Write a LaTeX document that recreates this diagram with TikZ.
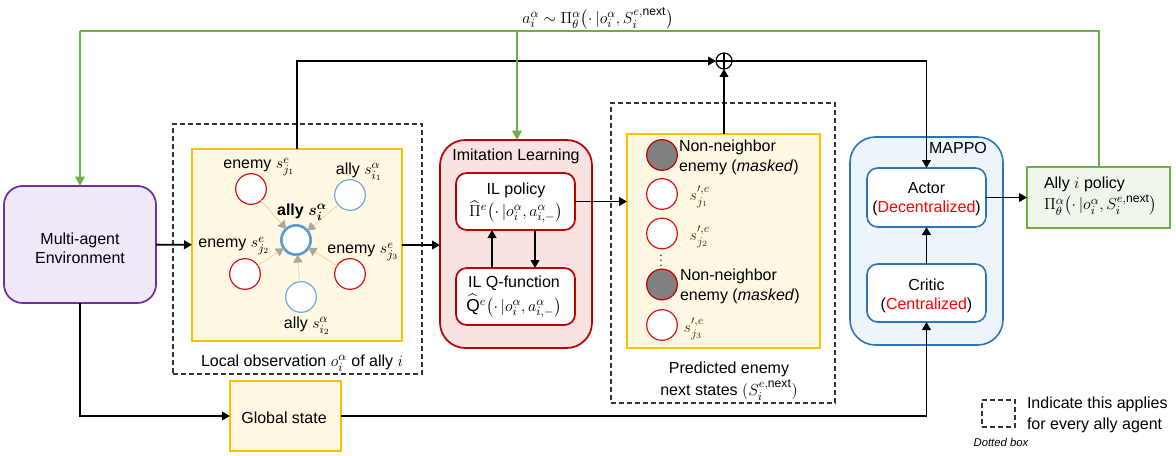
\documentclass[tikz,border=0pt]{standalone}
\usepackage{amsmath}
\usepackage{fontspec}
\setmainfont{Liberation Sans}
\usetikzlibrary{arrows.meta,calc}
\newcommand\MM[1]{{\fontsize{13}{14.4}\selectfont$#1$}}
\definecolor{envF}{HTML}{EFE8F6}\definecolor{envD}{HTML}{7030A0}
\definecolor{yelF}{HTML}{FFF8E3}\definecolor{yelD}{HTML}{FFC000}
\definecolor{ilF}{HTML}{F8E2E2}\definecolor{ilD}{HTML}{C00000}
\definecolor{mpF}{HTML}{EDF4FB}\definecolor{mpD}{HTML}{2E75B6}
\definecolor{grF}{HTML}{F0F5EC}\definecolor{grD}{HTML}{70AD47}
\definecolor{allyD}{HTML}{6FA8DC}\definecolor{enD}{HTML}{D9101A}
\definecolor{mainA}{HTML}{5B9BD5}\definecolor{thinL}{HTML}{EBD9A6}\definecolor{thinT}{HTML}{ACA99C}
\definecolor{olv}{HTML}{3F3508}\definecolor{txtred}{HTML}{FF0000}
\tikzset{
  every node/.style={font=\fontsize{12}{14.4}\selectfont,align=center,inner sep=0pt,outer sep=0pt},
  sz/.style 2 args={minimum width=#1*0.75pt,minimum height=#2*0.75pt},
  dashbox/.style={draw=black!80,line width=0.8pt,dash pattern=on 3.4pt off 2.6pt},
  yelbox/.style={draw=yelD,fill=yelF,line width=1.5pt},
  envbox/.style={draw=envD,fill=envF,line width=1.3pt,rounded corners=14pt},
  ilbox/.style={draw=ilD,fill=ilF,line width=1.3pt,rounded corners=19pt},
  ilin/.style={draw=ilD,fill=white,line width=1.3pt,rounded corners=8pt},
  mpbox/.style={draw=mpD,fill=mpF,line width=1.2pt,rounded corners=19pt},
  mpin/.style={draw=mpD,fill=white,line width=1.2pt,rounded corners=8pt},
  grbox/.style={draw=grD,fill=grF,line width=1.5pt},
  encirc/.style={circle,draw=enD,fill=white,line width=0.9pt,minimum size=23pt},
  alcirc/.style={circle,draw=allyD,fill=white,line width=0.9pt,minimum size=23pt},
  maincirc/.style={circle,draw=mainA,fill=white,line width=2pt,minimum size=22pt},
  grcirc/.style={circle,draw=ilD,fill=black!50,line width=0.9pt,minimum size=23pt},
  arr/.style={draw=black,line width=1.4pt,-{Triangle[length=6pt,width=6.5pt]}},
  grarr/.style={draw=grD,line width=1.5pt,-{Triangle[length=7pt,width=7pt]}},
  grline/.style={draw=grD,line width=1.5pt},
  thin arr/.style={draw=thinL,line width=0.7pt,-{Triangle[length=6pt,width=7pt,color=thinT]}},
}
\begin{document}
\begin{tikzpicture}[x=0.75pt,y=-0.75pt]
\useasboundingbox (0,0) rectangle (1176,456);
% dashed containers
\node[dashbox,sz={249}{250}] (d1) at (297.5,249) {};
\node[dashbox,sz={224}{300}] (d2) at (723,253) {};
\node[dashbox,sz={33}{27}] (d3) at (998.5,413.5) {};
% main boxes
\node[envbox,sz={152}{117}] (env) at (80,244.5) {};
\node (envt) at (80,248.5) {Multi-agent\\Environment};
\node[yelbox,sz={210}{192}] (yel) at (297,245) {};
\node[yelbox,sz={111}{70}] (gs) at (285.5,416) {};
\node (gst) at (284,418) {Global state};
\node[ilbox,sz={152}{208}] (il) at (516,244) {};
\node[ilin,sz={119}{57}] (ilp) at (515.5,201.5) {};
\node[ilin,sz={119}{57}] (ilq) at (515.5,296.5) {};
\node[yelbox,sz={193}{214}] (y2) at (723.5,241) {};
\node[mpbox,sz={153}{208}] (mp) at (926.5,241) {};
\node[mpin,sz={119}{59}] (act) at (926.5,197.5) {};
\node (actt) at (926.5,199) {Actor\\(\textcolor{txtred}{Decentralized})};
\node[mpin,sz={119}{58}] (cri) at (926.5,293) {};
\node (crit) at (926.5,296) {Critic\\(\textcolor{txtred}{Centralized})};
\node[grbox,sz={143}{61}] (ally) at (1098.5,197.5) {};
% texts in containers
\node (iltitle) at (516,156.5) {Imitation Learning};
\node (ilptxt) at (516,203) {IL policy\\[2pt]\MM{\widehat{\Pi}^{e}\bigl({\cdot}\,|o_i^{\alpha},a_{i,-}^{\alpha}\bigr)}};
\node (ilqtxt) at (514,297) {IL Q-function\\[2pt]\MM{\widehat{\mathrm{Q}}^{e}\bigl({\cdot}\,|o_i^{\alpha},a_{i,-}^{\alpha}\bigr)}};
\node (mplabel) at (958,148) {MAPPO};
\node[align=left,anchor=west] (allytxt) at (1044,196) {Ally $i$ policy\\[2pt]\MM{\Pi_{\theta}^{\alpha}\bigl({\cdot}\,|o_i^{\alpha},S_i^{e,\mathrm{next}}\bigr)}};
\node (action) at (598,18) {\MM{a_i^{\alpha}\sim\Pi_{\theta}^{\alpha}\bigl({\cdot}\,|o_i^{\alpha},S_i^{e,\mathrm{next}}\bigr)}};
\node (locobs) at (302,363) {Local observation \MM{o_i^{\alpha}} of ally $i$};
\node (pred) at (729,381) {Predicted enemy\\[2pt]next states \MM{(S_i^{e,\mathrm{next}})}};
\node[align=left,anchor=west] (legend) at (1027,415) {Indicate this applies\\[1pt]for every ally agent};
\node[font=\fontsize{8.5}{10}\selectfont\itshape] (dotted) at (1001,442) {Dotted box};
% observation graph
\node[maincirc] (c0) at (296,240) {};
\node[encirc] (e1) at (251,189) {};
\node[alcirc] (a1) at (350,195) {};
\node[encirc] (e2) at (245,274) {};
\node[encirc] (e3) at (350,274) {};
\node[alcirc] (a2) at (301,297) {};
\foreach \n in {e1,a1,e2,e3,a2} \draw[thin arr] (\n) -- (c0);
\node (le1) at (259,167) {enemy \MM{s_{j_1}^{e}}};
\node (la1) at (359,172) {ally \MM{s_{i_1}^{\alpha}}};
\node (lc0) at (302,212) {\textbf{ally} \MM{\boldsymbol{s_i^{\alpha}}}};
\node (le2) at (234,246) {enemy \MM{s_{j_2}^{e}}};
\node (le3) at (363,252) {enemy \MM{s_{j_3}^{e}}};
\node (la2) at (307,326) {ally \MM{s_{i_2}^{\alpha}}};
% predicted list
\node[grcirc] (p1) at (662,155) {};
\node[encirc] (p2) at (662,194) {};
\node[encirc] (p3) at (662,233.5) {};
\node[grcirc] (p4) at (662,284.5) {};
\node[encirc] (p5) at (662,325) {};
\node[align=left,anchor=west] (n1) at (679,157.5) {Non-neighbor\\[1pt]enemy (\textit{masked})};
\node[align=left,anchor=west] (n2) at (680,286.5) {Non-neighbor\\[1pt]enemy (\textit{masked})};
\node[text=olv] (s1) at (700,197) {\MM{s_{j_1}^{\prime,e}}};
\node[text=olv] (s2) at (700,237) {\MM{s_{j_2}^{\prime,e}}};
\node[text=olv] (s3) at (694,329) {\MM{s_{j_3}^{\prime,e}}};
\node[font=\fontsize{9}{9}\selectfont] (vd) at (661,257) {$\vdots$};
% plus
\node[circle,draw=black,line width=0.9pt,minimum size=12pt] (plus) at (724,61) {};
\draw[black,line width=0.9pt] (plus.north) -- (plus.south) (plus.west) -- (plus.east);
% connectors
\coordinate (gc) at (80,31);
\coordinate (gj) at (517,31);
\coordinate (gr) at (1098.5,31);
\draw[arr] (env) -- (yel);
\draw[arr] (env.south) |- (gs.west);
\draw[arr] (gs.east) -| (cri.south);
\draw[arr] (yel.north) |- (plus.west);
\draw[arr] (y2.north -| plus.south) -- (plus.south);
\draw[arr] (plus.east) -| (act.north);
\draw[arr] (yel.east) -- (yel.east -| il.west);
\draw[arr] (ilp.east) -- (ilp.east -| y2.west);
\draw[arr] ([xshift=-17.6pt]ilq.north) -- ([xshift=-17.6pt]ilp.south);
\draw[arr] ([xshift=14.6pt]ilp.south) -- ([xshift=14.6pt]ilq.north);
\draw[arr] (cri) -- (act);
\draw[arr] (act.east) -- (act.east -| ally.west);
\draw[grline] (ally.north) -- (gr) -- (gc);
\draw[grarr] (gc) -- (env.north);
\draw[grarr] (gj) -- (gj |- il.north);
\end{tikzpicture}
\end{document}
